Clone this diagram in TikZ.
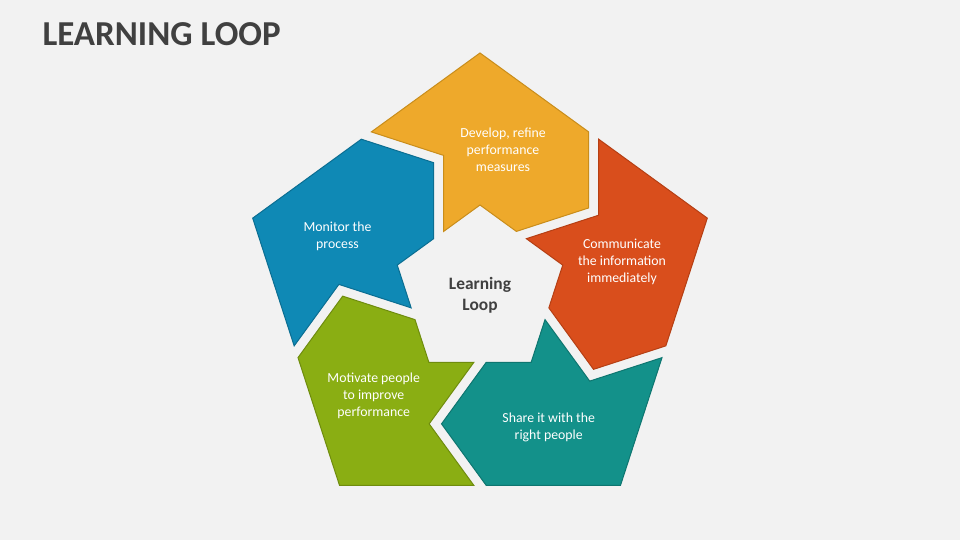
\documentclass[tikz,border=0pt]{standalone}
\usepackage{fontspec}
\setmainfont{Carlito}
\definecolor{bgcol}{HTML}{F2F2F2}
\definecolor{darktxt}{HTML}{404040}
\definecolor{yellowfill}{HTML}{EEA92B}
\definecolor{yellowline}{HTML}{C98D1B}
\definecolor{orangefill}{HTML}{D94E1C}
\definecolor{orangeline}{HTML}{B53F14}
\definecolor{tealfill}{HTML}{13918A}
\definecolor{tealline}{HTML}{0E7670}
\definecolor{greenfill}{HTML}{8AAE13}
\definecolor{greenline}{HTML}{6F8C0E}
\definecolor{bluefill}{HTML}{0F89B5}
\definecolor{blueline}{HTML}{0B6E92}
\tikzset{
  piece/.style={line width=1pt, line join=miter, shift={(480,248)}},
  steptext/.style={text=white, align=center, font=\fontsize{13.8}{17}\selectfont},
}
\begin{document}
\begin{tikzpicture}[x=1pt,y=1pt]
    \fill[bgcol] (0,0) rectangle (960,540);
    \useasboundingbox (0,0) rectangle (960,540);
    \node[anchor=base west, text=darktxt, font=\fontsize{35}{40}\selectfont\bfseries] at (39,494) (title) {LEARNING LOOP};
    % the five pieces, one template turned by 72 degrees each time
    \draw[piece, rotate=0, fill=yellowfill, draw=yellowline] (0,239) -- (108.65,160.08) -- (108.65,84.06) -- (36.37,60.57) -- (0,87) -- (-36.37,60.57) -- (-36.37,136.57) -- (-108.65,160.08) -- cycle;
    \draw[piece, rotate=-72, fill=orangefill, draw=orangeline] (0,239) -- (108.65,160.08) -- (108.65,84.06) -- (36.37,60.57) -- (0,87) -- (-36.37,60.57) -- (-36.37,136.57) -- (-108.65,160.08) -- cycle;
    \draw[piece, rotate=-144, fill=tealfill, draw=tealline] (0,239) -- (108.65,160.08) -- (108.65,84.06) -- (36.37,60.57) -- (0,87) -- (-36.37,60.57) -- (-36.37,136.57) -- (-108.65,160.08) -- cycle;
    \draw[piece, rotate=144, fill=greenfill, draw=greenline] (0,239) -- (108.65,160.08) -- (108.65,84.06) -- (36.37,60.57) -- (0,87) -- (-36.37,60.57) -- (-36.37,136.57) -- (-108.65,160.08) -- cycle;
    \draw[piece, rotate=72, fill=bluefill, draw=blueline] (0,239) -- (108.65,160.08) -- (108.65,84.06) -- (36.37,60.57) -- (0,87) -- (-36.37,60.57) -- (-36.37,136.57) -- (-108.65,160.08) -- cycle;
    % labels
    \node[steptext] at (503,390.5) (develop) {Develop, refine\\performance\\measures};
    \node[steptext] at (622,277.7) (communicate) {Communicate\\the information\\immediately};
    \node[steptext] at (548.7,113) (share) {Share it with the\\right people};
    \node[steptext] at (373.7,143.7) (motivate) {Motivate people\\to improve\\performance};
    \node[steptext] at (337.5,304) (monitor) {Monitor the\\process};
    \node[text=darktxt, align=center, font=\fontsize{17.4}{21}\selectfont\bfseries] at (480,245) (centre) {Learning\\Loop};
\end{tikzpicture}
\end{document}
